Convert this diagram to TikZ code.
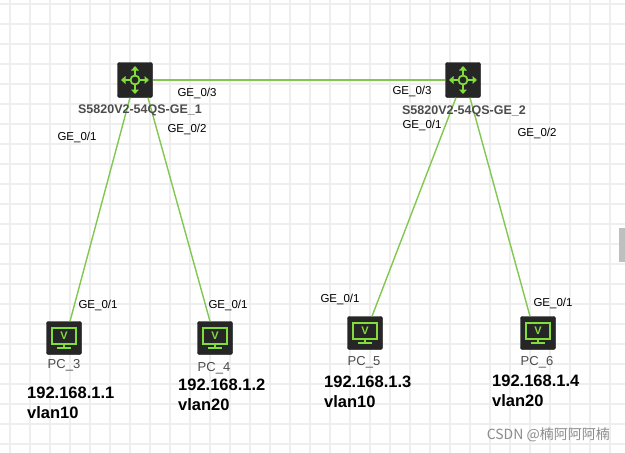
\documentclass[tikz,border=0pt]{standalone}
\usepackage{fontspec}
\setmainfont{Liberation Sans}
\newfontfamily\cjk{Noto Sans CJK SC}
\definecolor{lnk}{RGB}{130,200,80}
\definecolor{ico}{RGB}{130,220,60}
\definecolor{grd}{RGB}{238,238,238}
\begin{document}
\begin{tikzpicture}[x=1pt,y=-1pt,
  dev/.style={draw=black,fill=black!85,rounded corners=2pt,minimum width=35pt,minimum height=35pt,inner sep=0},
  link/.style={draw=lnk,line width=1.4pt},
  port/.style={font=\fontsize{11.5}{13}\selectfont,inner sep=0},
  nm/.style={font=\fontsize{12.5}{14}\selectfont\bfseries,text=black!70,inner sep=0},
  pcn/.style={font=\fontsize{13}{14}\selectfont,text=black!70,inner sep=0},
  ip/.style={font=\fontsize{16.5}{20}\selectfont\bfseries,align=left,anchor=north west,inner sep=0}]
\useasboundingbox (0,0) rectangle (625,453);
\fill[white] (0,0) rectangle (625,453);
\foreach \x in {10,30,...,610} \draw[grd,line width=1.2pt] (\x,0) -- (\x,453);
\foreach \y in {4,24,...,450} \draw[grd,line width=1.2pt] (0,\y) -- (625,\y);
\fill[black!25] (619,228) rectangle (625,262);
% devices
\node[dev] (s1) at (135,80) {};
\node[dev] (s2) at (463,80) {};
\node[dev,minimum height=33pt] (p3) at (64,338) {};
\node[dev,minimum height=33pt] (p4) at (215,338) {};
\node[dev,minimum height=33pt] (p5) at (365,333) {};
\node[dev,minimum height=33pt] (p6) at (538,333) {};
\foreach \s in {s1,s2}{
  \begin{scope}[shift={(\s)},draw=ico,line width=1.8pt]
   \draw (0,0) circle (4.5);
   \draw (-12,0)--(-4.5,0) (4.5,0)--(12,0) (0,-12)--(0,-4.5) (0,4.5)--(0,12);
   \fill[ico] (-14,0)--(-9.5,-4)--(-9.5,4)--cycle (14,0)--(9.5,-4)--(9.5,4)--cycle
     (0,-14)--(-4,-9.5)--(4,-9.5)--cycle (0,14)--(-4,9.5)--(4,9.5)--cycle;
  \end{scope}}
\foreach \p in {p3,p4,p5,p6}{
  \begin{scope}[shift={(\p)},draw=ico,line width=1.5pt]
   \draw (-12,-10) rectangle (12,6);
   \draw (0,6)--(0,10) (-7,10)--(7,10);
   \node[text=ico,font=\bfseries\fontsize{11}{11}\selectfont] at (0,-2) {V};
  \end{scope}}
% links
\draw[link] (s1.east) -- (s2.west);
\draw[link] ([xshift=-5pt]s1.south) -- ([xshift=6pt]p3.north);
\draw[link] ([xshift=13pt]s1.south) -- ([xshift=-5pt]p4.north);
\draw[link] ([xshift=-7pt]s2.south) -- ([xshift=7pt]p5.north);
\draw[link] ([xshift=7pt]s2.south) -- ([xshift=-8pt]p6.north);
% labels
\node[port] at (197,93) {GE\_0/3};
\node[nm] at (140,110) {S5820V2-54QS-GE\_1};
\node[port] at (187,129) {GE\_0/2};
\node[port] at (77,137) {GE\_0/1};
\node[port] at (412,91) {GE\_0/3};
\node[nm] at (464,111) {S5820V2-54QS-GE\_2};
\node[port] at (422,125) {GE\_0/1};
\node[port] at (537,133) {GE\_0/2};
\node[port] at (98,305) {GE\_0/1};
\node[port] at (228,305) {GE\_0/1};
\node[port] at (340,299) {GE\_0/1};
\node[port] at (553,303) {GE\_0/1};
\node[pcn] at (64,365) {PC\_3};
\node[pcn] at (214,368) {PC\_4};
\node[pcn] at (364,362) {PC\_5};
\node[pcn] at (537,362) {PC\_6};
\node[ip] at (27,387) {192.168.1.1\\vlan10};
\node[ip] at (178,379) {192.168.1.2\\vlan20};
\node[ip] at (324,376) {192.168.1.3\\vlan10};
\node[ip] at (492,375) {192.168.1.4\\vlan20};
\node[font=\fontsize{14}{15}\selectfont\cjk,text=black!45,anchor=east,inner sep=0] at (610,435) {CSDN @楠阿阿阿楠};
\end{tikzpicture}
\end{document}
